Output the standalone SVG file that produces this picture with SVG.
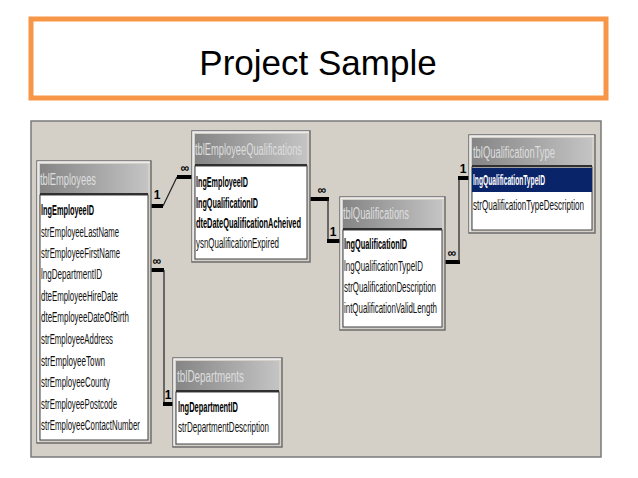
<svg xmlns="http://www.w3.org/2000/svg" width="638" height="478" viewBox="0 0 638 478">
<defs>
<linearGradient id="hdr" x1="0" y1="0" x2="1" y2="0">
<stop offset="0" stop-color="#858585"/>
<stop offset="1" stop-color="#c4c4c4"/>
</linearGradient>
</defs>
<style>
.frame{fill:#d4d0c8;stroke:#6e6e6e;stroke-width:1.5}
.hi{fill:none;stroke:#f4f4f4;stroke-width:1.5}
.hdr{fill:url(#hdr)}
.list{fill:#ffffff;stroke:#404040;stroke-width:1}
.sep{stroke:#303030;stroke-width:2}
.ht{font-family:"Liberation Sans",Arial,sans-serif;font-size:16px;fill:#dedede}
.f{font-family:"Liberation Sans",Arial,sans-serif;font-size:15.5px;fill:#111}
.k{font-weight:bold;fill:#000}
.bar{stroke:#000;stroke-width:4;fill:none}
.ln{stroke:#202020;stroke-width:1.2;fill:none}
.lab{font-family:"Liberation Sans",Arial,sans-serif;font-size:12px;font-weight:bold;fill:#000;text-anchor:middle}
</style>
<rect width="638" height="478" fill="#ffffff"/>
<g id="title">
<rect x="31" y="19" width="575" height="79" fill="#ffffff" stroke="#f79646" stroke-width="5"/>
<text x="318" y="75" font-family="Liberation Sans,Arial,sans-serif" font-size="35" text-anchor="middle" fill="#000">Project Sample</text>
</g>
<g id="panel">
<rect x="31" y="121" width="570" height="336" fill="#d4d0c8" stroke="#7a7a7a" stroke-width="1.5"/>
</g>
<g id="connectors">
<path class="bar" d="M151 206H163"/>
<path class="ln" d="M163 206L177 177"/>
<path class="bar" d="M177 177H192"/>
<text class="lab" x="157" y="199">1</text>
<text class="lab" x="185" y="172">∞</text>
<path class="bar" d="M151 270H164"/>
<path class="ln" d="M164 270V404"/>
<path class="bar" d="M163 404H173"/>
<text class="lab" x="157" y="265">∞</text>
<text class="lab" x="168" y="399">1</text>
<path class="bar" d="M310 199H329"/>
<path class="ln" d="M328 199V241"/>
<path class="bar" d="M327 241H340"/>
<text class="lab" x="322" y="194">∞</text>
<text class="lab" x="333" y="236">1</text>
<path class="bar" d="M445 262H460"/>
<path class="ln" d="M459 262V178"/>
<path class="bar" d="M458 178H469"/>
<text class="lab" x="452" y="257">∞</text>
<text class="lab" x="463" y="173">1</text>
</g>
<g id="tblEmployees">
<rect class="frame" x="37" y="161" width="114" height="282"/>
<path class="hi" d="M38 442V162H150"/>
<rect class="hdr" x="40" y="164" width="108" height="29"/>
<rect class="list" x="40" y="195" width="108" height="245"/>
<path class="sep" d="M40 194H148"/>
<text class="ht" x="40" y="185" textLength="56" lengthAdjust="spacingAndGlyphs">tblEmployees</text>
<text class="f k" x="41" y="215" textLength="53" lengthAdjust="spacingAndGlyphs">lngEmployeeID</text>
<text class="f" x="41" y="237" textLength="78" lengthAdjust="spacingAndGlyphs">strEmployeeLastName</text>
<text class="f" x="41" y="258" textLength="79" lengthAdjust="spacingAndGlyphs">strEmployeeFirstName</text>
<text class="f" x="41" y="279" textLength="61" lengthAdjust="spacingAndGlyphs">lngDepartmentID</text>
<text class="f" x="41" y="301" textLength="77" lengthAdjust="spacingAndGlyphs">dteEmployeeHireDate</text>
<text class="f" x="41" y="322" textLength="88" lengthAdjust="spacingAndGlyphs">dteEmployeeDateOfBirth</text>
<text class="f" x="41" y="344" textLength="72" lengthAdjust="spacingAndGlyphs">strEmployeeAddress</text>
<text class="f" x="41" y="366" textLength="64" lengthAdjust="spacingAndGlyphs">strEmployeeTown</text>
<text class="f" x="41" y="387" textLength="69" lengthAdjust="spacingAndGlyphs">strEmployeeCounty</text>
<text class="f" x="41" y="409" textLength="76" lengthAdjust="spacingAndGlyphs">strEmployeePostcode</text>
<text class="f" x="41" y="430" textLength="99" lengthAdjust="spacingAndGlyphs">strEmployeeContactNumber</text>
</g>
<g id="tblEmployeeQualifications">
<rect class="frame" x="192" y="131" width="118" height="131"/>
<path class="hi" d="M193 261V132H309"/>
<rect class="hdr" x="195" y="134" width="112" height="30"/>
<rect class="list" x="195" y="166" width="112" height="93"/>
<path class="sep" d="M195 165H307"/>
<text class="ht" x="195" y="155" textLength="107" lengthAdjust="spacingAndGlyphs">tblEmployeeQualifications</text>
<text class="f k" x="196" y="187" textLength="52" lengthAdjust="spacingAndGlyphs">lngEmployeeID</text>
<text class="f k" x="196" y="208" textLength="62" lengthAdjust="spacingAndGlyphs">lngQualificationID</text>
<text class="f k" x="196" y="228" textLength="105" lengthAdjust="spacingAndGlyphs">dteDateQualificationAcheived</text>
<text class="f" x="196" y="248" textLength="83" lengthAdjust="spacingAndGlyphs" fill="#333">ysnQualificationExpired</text>
</g>
<g id="tblQualifications">
<rect class="frame" x="340" y="197" width="105" height="133"/>
<path class="hi" d="M341 329V198H444"/>
<rect class="hdr" x="343" y="200" width="99" height="28"/>
<rect class="list" x="343" y="230" width="99" height="97"/>
<path class="sep" d="M343 229H442"/>
<text class="ht" x="343" y="219" textLength="66" lengthAdjust="spacingAndGlyphs">tblQualifications</text>
<text class="f k" x="344" y="249" textLength="63" lengthAdjust="spacingAndGlyphs">lngQualificationID</text>
<text class="f" x="344" y="271" textLength="79" lengthAdjust="spacingAndGlyphs">lngQualificationTypeID</text>
<text class="f" x="344" y="292" textLength="92" lengthAdjust="spacingAndGlyphs">strQualificationDescription</text>
<text class="f" x="344" y="313" textLength="93" lengthAdjust="spacingAndGlyphs">intQualificationValidLength</text>
</g>
<g id="tblQualificationType">
<rect class="frame" x="469" y="135" width="126" height="98"/>
<path class="hi" d="M470 232V136H594"/>
<rect class="hdr" x="472" y="138" width="120" height="27"/>
<rect class="list" x="472" y="167" width="120" height="63"/>
<path class="sep" d="M472 166H592"/>
<rect x="472" y="168" width="120" height="24" fill="#0a246a"/>
<text class="ht" x="473" y="158" textLength="82" lengthAdjust="spacingAndGlyphs">tblQualificationType</text>
<text class="f k" x="473" y="185" textLength="72" lengthAdjust="spacingAndGlyphs" style="fill:#ffffff">lngQualificationTypeID</text>
<text class="f" x="473" y="210" textLength="111" lengthAdjust="spacingAndGlyphs">strQualificationTypeDescription</text>
</g>
<g id="tblDepartments">
<rect class="frame" x="173" y="358" width="109" height="89"/>
<path class="hi" d="M174 446V359H281"/>
<rect class="hdr" x="176" y="361" width="103" height="29"/>
<rect class="list" x="176" y="392" width="103" height="52"/>
<path class="sep" d="M176 391H279"/>
<text class="ht" x="177" y="382" textLength="67" lengthAdjust="spacingAndGlyphs">tblDepartments</text>
<text class="f k" x="178" y="412" textLength="60" lengthAdjust="spacingAndGlyphs">lngDepartmentID</text>
<text class="f" x="178" y="432" textLength="91" lengthAdjust="spacingAndGlyphs">strDepartmentDescription</text>
</g>
</svg>
